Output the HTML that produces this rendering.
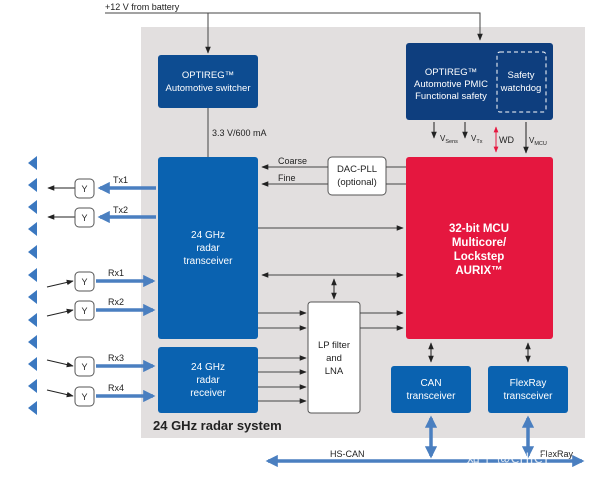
<!DOCTYPE html><html><head><style>body{margin:0;background:#fff}svg{display:block;font-family:"Liberation Sans",sans-serif}</style></head><body>
<svg width="600" height="483" viewBox="0 0 600 483">
<defs>
<marker id="a" viewBox="0 0 10 10" refX="9" refY="5" markerWidth="7" markerHeight="7" orient="auto-start-reverse"><path d="M0,1L10,5L0,9z" fill="#222"/></marker>
<marker id="r" viewBox="0 0 10 10" refX="9" refY="5" markerWidth="6" markerHeight="6" orient="auto-start-reverse"><path d="M0,1L10,5L0,9z" fill="#e5173f"/></marker>
<marker id="b" viewBox="0 0 10 10" refX="8" refY="5" markerWidth="3.5" markerHeight="3.5" orient="auto-start-reverse"><path d="M0,0L10,5L0,10z" fill="#4a7fc0"/></marker>
</defs>
<rect x="141" y="27" width="444" height="411" fill="#e2dfdf"/>
<text x="105" y="10" font-size="9" fill="#222">+12 V from battery</text>
<path d="M105,13H480V40" fill="none" stroke="#444" marker-end="url(#a)"/>
<path d="M208,13V53" fill="none" stroke="#444" marker-end="url(#a)"/>
<rect x="158" y="55" width="100" height="53" rx="3" fill="#0d4c91"/>
<text fill="#fff" font-size="9.5" text-anchor="middle"><tspan x="208" y="78">OPTIREG™</tspan><tspan x="208" y="91">Automotive switcher</tspan></text>
<path d="M208,108V157" stroke="#444"/>
<text x="212" y="136" font-size="9" fill="#222">3.3 V/600 mA</text>
<rect x="406" y="43" width="147" height="77" rx="3" fill="#0e3e7e"/>
<text fill="#fff" font-size="9.5" text-anchor="middle"><tspan x="451" y="75">OPTIREG™</tspan><tspan x="451" y="87">Automotive PMIC</tspan><tspan x="451" y="99">Functional safety</tspan></text>
<rect x="497" y="52" width="49" height="60" rx="3" fill="none" stroke="#fff" stroke-dasharray="4,3"/>
<text fill="#fff" font-size="9.5" text-anchor="middle"><tspan x="521" y="78">Safety</tspan><tspan x="521" y="91">watchdog</tspan></text>
<g stroke="#222" marker-end="url(#a)"><path d="M434,122V138"/><path d="M465,122V138"/><path d="M526,122V153"/></g>
<path d="M496,127V152" stroke="#e5173f" marker-start="url(#r)" marker-end="url(#r)"/>
<text font-size="8" fill="#222"><tspan x="440" y="141">V</tspan><tspan font-size="5.5" dy="2">Sens</tspan><tspan x="471" y="141">V</tspan><tspan font-size="5.5" dy="2">Tx</tspan><tspan x="499" y="143" font-size="9">WD</tspan><tspan x="529" y="143">V</tspan><tspan font-size="5.5" dy="2">MCU</tspan></text>
<rect x="406" y="157" width="147" height="182" rx="3" fill="#e5173f"/>
<text fill="#fff" font-size="11.5" font-weight="bold" text-anchor="middle"><tspan x="479" y="232">32-bit MCU</tspan><tspan x="479" y="246">Multicore/</tspan><tspan x="479" y="260">Lockstep</tspan><tspan x="479" y="274">AURIX™</tspan></text>
<rect x="158" y="157" width="100" height="182" rx="3" fill="#0a62b0"/>
<text fill="#fff" font-size="10" text-anchor="middle"><tspan x="208" y="238">24 GHz</tspan><tspan x="208" y="251">radar</tspan><tspan x="208" y="264">transceiver</tspan></text>
<rect x="158" y="347" width="100" height="66" rx="3" fill="#0a62b0"/>
<text fill="#fff" font-size="10" text-anchor="middle"><tspan x="208" y="370">24 GHz</tspan><tspan x="208" y="383">radar</tspan><tspan x="208" y="396">receiver</tspan></text>
<text x="153" y="430" font-size="13" font-weight="bold" fill="#222">24 GHz radar system</text>
<rect x="328" y="157" width="58" height="38" rx="4" fill="#fff" stroke="#555"/>
<text fill="#222" font-size="9.5" text-anchor="middle"><tspan x="357" y="172">DAC-PLL</tspan><tspan x="357" y="185">(optional)</tspan></text>
<g stroke="#444" marker-end="url(#a)"><path d="M328,167H262"/><path d="M328,184H262"/></g>
<text x="278" y="164" font-size="9" fill="#222">Coarse</text><text x="278" y="181" font-size="9" fill="#222">Fine</text>
<path d="M386,167H406M386,184H406" stroke="#444"/>
<path d="M258,228H403" stroke="#444" marker-end="url(#a)"/>
<path d="M262,275H403" stroke="#444" marker-start="url(#a)" marker-end="url(#a)"/>
<path d="M334,279V299" stroke="#222" marker-start="url(#a)" marker-end="url(#a)"/>
<rect x="308" y="302" width="52" height="111" rx="3" fill="#fff" stroke="#555"/>
<text fill="#222" font-size="9.5" text-anchor="middle"><tspan x="334" y="348">LP filter</tspan><tspan x="334" y="361">and</tspan><tspan x="334" y="374">LNA</tspan></text>
<g stroke="#444" marker-end="url(#a)"><path d="M258,313H306"/><path d="M258,328H306"/><path d="M258,358H306"/><path d="M258,372H306"/><path d="M258,387H306"/><path d="M258,401H306"/><path d="M360,313H403"/><path d="M360,328H403"/></g>
<g stroke="#222" marker-start="url(#a)" marker-end="url(#a)"><path d="M431,343V362"/><path d="M528,343V362"/></g>
<rect x="391" y="366" width="80" height="47" rx="3" fill="#0a62b0"/>
<text fill="#fff" font-size="10" text-anchor="middle"><tspan x="431" y="386">CAN</tspan><tspan x="431" y="399">transceiver</tspan></text>
<rect x="488" y="366" width="80" height="47" rx="3" fill="#0a62b0"/>
<text fill="#fff" font-size="10" text-anchor="middle"><tspan x="528" y="386">FlexRay</tspan><tspan x="528" y="399">transceiver</tspan></text>
<g stroke="#4a7fc0" stroke-width="3.5" fill="none">
<path d="M268,461H582" marker-start="url(#b)" marker-end="url(#b)"/>
<path d="M431,418V456" marker-start="url(#b)" marker-end="url(#b)"/>
<path d="M528,418V456" marker-start="url(#b)" marker-end="url(#b)"/>
<path d="M156,188H100" marker-end="url(#b)"/><path d="M156,217H100" marker-end="url(#b)"/>
<path d="M96,281H153" marker-end="url(#b)"/><path d="M96,310H153" marker-end="url(#b)"/><path d="M96,366H153" marker-end="url(#b)"/><path d="M96,396H153" marker-end="url(#b)"/>
</g>
<text x="330" y="457" font-size="9" fill="#222">HS-CAN</text>
<text x="540" y="457" font-size="9" fill="#222">FlexRay</text>
<text x="466" y="463" font-size="14" fill="#fff" opacity="0.8" font-family="Noto Sans CJK SC,sans-serif">知乎 @CHICY</text>
<g fill="#3b78c0">
<path d="M28,163l9,-7v14z M28,185l9,-7v14z M28,207l9,-7v14z M28,229l9,-7v14z M28,252l9,-7v14z M28,275l9,-7v14z M28,297l9,-7v14z M28,320l9,-7v14z M28,342l9,-7v14z M28,364l9,-7v14z M28,386l9,-7v14z M28,408l9,-7v14z"/>
</g>
<g stroke="#222" fill="none" marker-end="url(#a)">
<path d="M75,188H48"/><path d="M75,217H48"/>
<path d="M47,287L73,281"/><path d="M47,316L73,310"/><path d="M47,360L73,366"/><path d="M47,390L73,396"/>
</g>
<g fill="#fff" stroke="#555">
<rect x="75" y="179" width="19" height="19" rx="4"/><rect x="75" y="208" width="19" height="19" rx="4"/>
<rect x="75" y="272" width="19" height="19" rx="4"/><rect x="75" y="301" width="19" height="19" rx="4"/>
<rect x="75" y="357" width="19" height="19" rx="4"/><rect x="75" y="387" width="19" height="19" rx="4"/>
</g>
<text font-size="9" fill="#222" text-anchor="middle"><tspan x="84.5" y="192">Y</tspan><tspan x="84.5" y="221">Y</tspan><tspan x="84.5" y="285">Y</tspan><tspan x="84.5" y="314">Y</tspan><tspan x="84.5" y="370">Y</tspan><tspan x="84.5" y="400">Y</tspan></text>
<text font-size="9" fill="#222"><tspan x="113" y="183">Tx1</tspan><tspan x="113" y="213">Tx2</tspan><tspan x="108" y="276">Rx1</tspan><tspan x="108" y="305">Rx2</tspan><tspan x="108" y="361">Rx3</tspan><tspan x="108" y="391">Rx4</tspan></text>
</svg></body></html>
